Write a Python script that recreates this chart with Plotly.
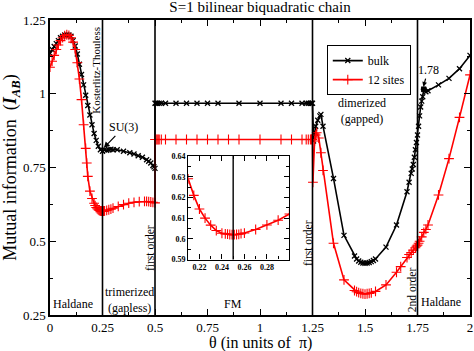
import plotly.graph_objects as go

# ---------------- data ----------------
bulk_theta = [0.0, 0.01, 0.02, 0.03, 0.04, 0.05, 0.06, 0.07, 0.08, 0.09, 0.10, 0.11, 0.12, 0.13,
              0.14, 0.15, 0.16, 0.17, 0.18, 0.19, 0.20, 0.21, 0.22, 0.23, 0.24, 0.25,
              0.26, 0.27, 0.28, 0.29, 0.30, 0.32, 0.35, 0.38, 0.40, 0.42, 0.44, 0.46, 0.47,
              0.48, 0.49, 0.495, 0.5,
              0.5, 0.505, 0.51, 0.52, 0.53, 0.55, 0.6, 0.65, 0.7, 0.75, 0.8, 0.9, 1.0, 1.1,
              1.15, 1.2, 1.22, 1.23, 1.24, 1.245, 1.25,
              1.255, 1.26, 1.265, 1.275, 1.285, 1.29, 1.30, 1.35, 1.40, 1.45, 1.46, 1.47,
              1.48, 1.49, 1.50, 1.51, 1.52, 1.53, 1.54, 1.55, 1.60, 1.65, 1.70, 1.71, 1.72,
              1.725, 1.73, 1.735, 1.74, 1.745, 1.75, 1.755, 1.76, 1.765, 1.77, 1.775, 1.78,
              1.79, 1.80, 1.85, 1.90, 1.95, 2.0]
bulk_val = [1.137, 1.15, 1.16, 1.17, 1.18, 1.19, 1.195, 1.199, 1.20, 1.199, 1.195, 1.18, 1.162, 1.135,
            1.10, 1.065, 1.03, 0.995, 0.96, 0.928, 0.895, 0.865, 0.842, 0.822, 0.81, 0.805,
            0.81, 0.808, 0.81, 0.812, 0.81, 0.81, 0.805, 0.80, 0.796, 0.79, 0.785, 0.776, 0.771,
            0.765, 0.757, 0.752, 0.747,
            0.968, 0.968, 0.968, 0.968, 0.968, 0.968, 0.968, 0.968, 0.968, 0.968, 0.968, 0.968,
            0.968, 0.968, 0.968, 0.968, 0.968, 0.968, 0.968, 0.968, 0.968,
            0.84, 0.87, 0.89, 0.91, 0.925, 0.93, 0.89, 0.713, 0.52, 0.45, 0.44, 0.433,
            0.429, 0.426, 0.425, 0.426, 0.428, 0.431, 0.435, 0.44, 0.48, 0.555, 0.668, 0.70, 0.73,
            0.745, 0.76, 0.785, 0.81, 0.835, 0.86, 0.89, 0.925, 0.955, 0.975, 0.99, 1.015,
            1.007, 1.01, 1.03, 1.052, 1.085, 1.13]

sites_theta = [0.0, 0.01, 0.02, 0.03, 0.04, 0.05, 0.06, 0.07, 0.08, 0.09, 0.10, 0.11, 0.12, 0.13,
               0.14, 0.15, 0.16, 0.17, 0.175, 0.18, 0.19, 0.20, 0.21, 0.215, 0.22, 0.225, 0.23,
               0.235, 0.24, 0.243, 0.245, 0.247, 0.249, 0.25, 0.251, 0.253, 0.255, 0.257, 0.26,
               0.27, 0.28, 0.29, 0.30, 0.325, 0.35, 0.375, 0.40, 0.425, 0.45, 0.46, 0.47, 0.48,
               0.49, 0.5,
               0.5, 0.505, 0.51, 0.515, 0.52, 0.53, 0.55, 0.6, 0.65, 0.7, 0.75, 0.8, 0.85, 0.9,
               1.0, 1.1, 1.15, 1.2, 1.22, 1.23, 1.24, 1.245, 1.25,
               1.252, 1.26, 1.265, 1.27, 1.28, 1.29, 1.30, 1.35, 1.40, 1.45, 1.46, 1.47, 1.48,
               1.49, 1.50, 1.51, 1.52, 1.53, 1.55, 1.60, 1.65, 1.67, 1.70, 1.71, 1.72, 1.73,
               1.74, 1.745, 1.75, 1.755, 1.76, 1.77, 1.78, 1.79, 1.80, 1.85, 1.90, 1.95, 2.0]
sites_val = [1.09, 1.11, 1.13, 1.15, 1.165, 1.18, 1.19, 1.197, 1.20, 1.198, 1.19, 1.175, 1.15, 1.105,
             1.05, 0.98, 0.895, 0.815, 0.765, 0.72, 0.67, 0.645, 0.629, 0.621, 0.6144, 0.610, 0.6066,
             0.604, 0.6027, 0.6024, 0.6023, 0.6021, 0.602, 0.602, 0.602, 0.6021, 0.6022, 0.6025, 0.6028,
             0.6045, 0.6067, 0.609, 0.612, 0.618, 0.624, 0.629, 0.632, 0.634, 0.635, 0.635, 0.634, 0.633,
             0.632, 0.63,
             0.845, 0.845, 0.845, 0.845, 0.845, 0.845, 0.845, 0.845, 0.845, 0.845, 0.845, 0.845, 0.845,
             0.845, 0.845, 0.845, 0.845, 0.845, 0.845, 0.845, 0.845, 0.845, 0.845,
             0.70, 0.84, 0.86, 0.868, 0.85, 0.80, 0.74, 0.493, 0.369, 0.333, 0.329, 0.326, 0.323,
             0.322, 0.321, 0.322, 0.323, 0.325, 0.33, 0.352, 0.395, 0.414, 0.445, 0.455, 0.462, 0.47,
             0.478, 0.483, 0.487, 0.493, 0.50, 0.515, 0.53, 0.54, 0.555, 0.657, 0.78, 0.92, 1.064]

transitions = [0.25, 0.5, 1.25, 1.75]
inset_range = [0.21, 0.30]
special_theta = [1.78]
special_val = [1.015]

x_ticks = [0, 0.25, 0.5, 0.75, 1, 1.25, 1.5, 1.75, 2]
x_ticktext = ["0", "0.25", "0.5", "0.75", "1", "1.25", "1.5", "1.75", "2"]
y_ticks = [0.25, 0.5, 0.75, 1, 1.25]
y_ticktext = ["0.25", "0.5", "0.75", "1", "1.25"]
inset_x_ticks = [0.22, 0.24, 0.26, 0.28]
inset_x_text = ["0.22", "0.24", "0.26", "0.28"]
inset_y_ticks = [0.59, 0.60, 0.61, 0.62, 0.63, 0.64]
inset_y_text = ["0.59", "0.6", "0.61", "0.62", "0.63", "0.64"]

SERIF = "Liberation Serif"
RED = "#ff0000"

fig = go.Figure()
fig.add_trace(go.Scatter(x=bulk_theta, y=bulk_val, name="bulk", mode="lines+markers",
                         line=dict(color="black", width=1.6),
                         marker=dict(symbol="x-thin", size=5, line=dict(color="black", width=1.3))))
fig.add_trace(go.Scatter(x=sites_theta, y=sites_val, name="12 sites", mode="lines+markers",
                         line=dict(color=RED, width=1.6),
                         marker=dict(symbol="cross-thin", size=7, line=dict(color=RED, width=1.1))))
fig.add_trace(go.Scatter(x=special_theta, y=special_val, mode="markers", showlegend=False,
                         marker=dict(symbol="circle", size=6, color="black")))

# inset
ins_t = [t for t in sites_theta if inset_range[0] <= t <= inset_range[1]]
ins_v = [v for t, v in zip(sites_theta, sites_val) if inset_range[0] <= t <= inset_range[1]]
fig.add_trace(go.Scatter(x=ins_t, y=ins_v, mode="lines+markers", showlegend=False,
                         xaxis="x2", yaxis="y2",
                         line=dict(color=RED, width=1.6),
                         marker=dict(symbol="cross-thin", size=7, line=dict(color=RED, width=1.1))))

shapes = []
for t in transitions:
    shapes.append(dict(type="line", xref="x", yref="y domain", x0=t, x1=t, y0=0, y1=1,
                       line=dict(color="black", width=1.6)))
shapes.append(dict(type="line", xref="x2", yref="y2 domain", x0=transitions[0], x1=transitions[0],
                   y0=0, y1=1, line=dict(color="black", width=1.4)))

ann_font = dict(family=SERIF, size=12, color="black")
rot_font = dict(family=SERIF, size=11.5, color="black")
annotations = [
    dict(x=0.5, y=-0.094, xref="paper", yref="paper", text="θ (in units of  π)",
         showarrow=False, font=dict(family=SERIF, size=16, color="black"), yanchor="middle"),
    dict(x=0.222, y=1.08, xref="x", yref="y", text="Kosterlitz-Thouless", textangle=-90,
         showarrow=False, font=dict(family=SERIF, size=11, color="black")),
    dict(x=0.476, y=0.477, xref="x", yref="y", text="first order", textangle=-90,
         showarrow=False, font=rot_font),
    dict(x=1.229, y=0.494, xref="x", yref="y", text="first order", textangle=-90,
         showarrow=False, font=rot_font),
    dict(x=1.725, y=0.335, xref="x", yref="y", text="2nd order", textangle=-90,
         showarrow=False, font=rot_font),
    dict(x=0.11, y=0.287, xref="x", yref="y", text="Haldane", showarrow=False, font=ann_font),
    dict(x=0.38, y=0.300, xref="x", yref="y", text="trimerized<br>(gapless)", showarrow=False,
         font=ann_font),
    dict(x=0.87, y=0.287, xref="x", yref="y", text="FM", showarrow=False, font=ann_font),
    dict(x=1.485, y=0.94, xref="x", yref="y", text="dimerized<br>(gapped)", showarrow=False,
         font=ann_font),
    dict(x=1.86, y=0.295, xref="x", yref="y", text="Haldane", showarrow=False, font=ann_font),
    dict(x=0.256, y=0.816, xref="x", yref="y", text="SU(3)", font=ann_font,
         showarrow=True, arrowhead=2, arrowsize=1, arrowwidth=1.2, arrowcolor="black",
         ax=0.35, ay=0.886, axref="x", ayref="y"),
    dict(x=1.778, y=1.024, xref="x", yref="y", text="1.78", font=ann_font,
         showarrow=True, arrowhead=2, arrowsize=0.8, arrowwidth=1.2, arrowcolor="black",
         ax=1.80, ay=1.08, axref="x", ayref="y"),
]

axis_common = dict(showline=True, linecolor="black", linewidth=1.5, mirror="allticks",
                   ticks="inside", ticklen=6, tickwidth=1.2, tickcolor="black",
                   showgrid=False, zeroline=False, automargin=False,
                   tickfont=dict(family=SERIF, size=13, color="black"))

fig.update_layout(
    width=474, height=351,
    margin=dict(l=50, r=4, t=20, b=36),
    paper_bgcolor="white", plot_bgcolor="white",
    font=dict(family=SERIF, color="black"),
    title=dict(text="S=1 bilinear biquadratic chain", x=260 / 474, xref="container",
               xanchor="center", y=0.995, yanchor="top",
               font=dict(family=SERIF, size=15, color="black")),
    xaxis=dict(range=[0, 2], tickvals=x_ticks, ticktext=x_ticktext, domain=[0, 1],
               minor=dict(ticks="inside", dtick=0.125, ticklen=3, tickcolor="black"),
               **axis_common),
    yaxis=dict(range=[0.25, 1.25], tickvals=y_ticks, ticktext=y_ticktext, domain=[0, 1],
               title=dict(text="Mutual information  (<b><i>I</i></b><sub><b><i>AB</i></b></sub>)",
                          font=dict(family=SERIF, size=18, color="black"), standoff=4),
               minor=dict(ticks="inside", dtick=0.125, ticklen=3, tickcolor="black"),
               **axis_common),
    xaxis2=dict(range=inset_range, domain=[0.329, 0.570], anchor="y2",
                tickvals=inset_x_ticks, ticktext=inset_x_text,
                showline=True, linecolor="black", linewidth=1.3, mirror="allticks",
                ticks="inside", ticklen=5, tickwidth=1, tickcolor="black",
                minor=dict(ticks="inside", dtick=0.01, ticklen=3, tickcolor="black"),
                showgrid=False, zeroline=False,
                tickfont=dict(family=SERIF, size=8, color="black", weight="bold")),
    yaxis2=dict(range=[0.59, 0.64], domain=[0.188, 0.539], anchor="x2",
                tickvals=inset_y_ticks, ticktext=inset_y_text,
                showline=True, linecolor="black", linewidth=1.3, mirror="allticks",
                ticks="inside", ticklen=5, tickwidth=1, tickcolor="black",
                minor=dict(ticks="inside", dtick=0.005, ticklen=3, tickcolor="black"),
                showgrid=False, zeroline=False,
                tickfont=dict(family=SERIF, size=8, color="black", weight="bold")),
    legend=dict(x=0.659, y=0.915, xanchor="left", yanchor="top", bgcolor="white",
                bordercolor="black", borderwidth=1,
                font=dict(family=SERIF, size=12, color="black"),
                itemwidth=30, tracegroupgap=0),
    shapes=shapes,
    annotations=annotations,
    showlegend=True,
)

fig.write_html("out.html")
